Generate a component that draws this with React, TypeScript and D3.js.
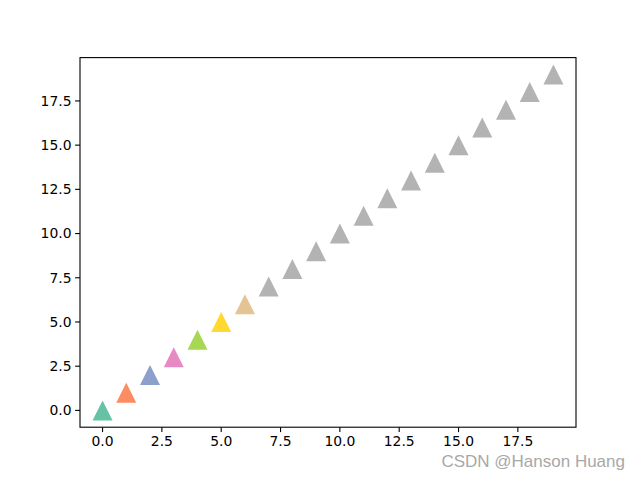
import React from "react";
import * as d3 from "d3";

const xs: number[] = Array.from({ length: 20 }, (_, i) => i);
const ys: number[] = [0, 1, 2, 3, 4, 5, 6, 7, 8, 9, 10, 11, 12, 13, 14, 15, 16, 17, 18, 19];
const palette: string[] = ["#66c2a5", "#fc8d62", "#8da0cb", "#e78ac3", "#a6d854", "#ffd92f", "#e5c494", "#b3b3b3"];
const xTicks: number[] = [0, 2.5, 5, 7.5, 10, 12.5, 15, 17.5];
const yTicks: number[] = [0, 2.5, 5, 7.5, 10, 12.5, 15, 17.5];

export default function App() {
  const W = 640, H = 480;
  const left = 80, right = 576, top = 57.6, bottom = 427.2;
  const x = d3.scaleLinear().domain([-0.95, 19.95]).range([left, right]);
  const y = d3.scaleLinear().domain([-0.95, 19.95]).range([bottom, top]);
  const half = 10;
  const tri = (cx: number, cy: number) =>
    `M${cx},${cy - half}L${cx - half},${cy + half}L${cx + half},${cy + half}Z`;
  const font = "DejaVu Sans, sans-serif";
  return (
    <svg width={W} height={H} style={{ position: "absolute", left: 0, top: 0 }}>
      <rect width={W} height={H} fill="#fff" />
      {xs.map((xv, i) => (
        <path key={i} d={tri(x(xv), y(ys[i]))} fill={palette[Math.min(i, palette.length - 1)]} />
      ))}
      <rect x={left} y={top} width={right - left} height={bottom - top} fill="none" stroke="#000" strokeWidth={1.1} />
      {xTicks.map((t) => (
        <g key={"x" + t}>
          <line x1={x(t)} x2={x(t)} y1={bottom} y2={bottom + 4.9} stroke="#000" strokeWidth={1.1} />
          <text x={x(t)} y={bottom + 19} textAnchor="middle" fontFamily={font} fontSize={13.9}>
            {t.toFixed(1)}
          </text>
        </g>
      ))}
      {yTicks.map((t) => (
        <g key={"y" + t}>
          <line x1={left - 4.9} x2={left} y1={y(t)} y2={y(t)} stroke="#000" strokeWidth={1.1} />
          <text x={left - 8.5} y={y(t)} dy="0.35em" textAnchor="end" fontFamily={font} fontSize={13.9}>
            {t.toFixed(1)}
          </text>
        </g>
      ))}
      <text x={625} y={467} textAnchor="end" fontFamily="Liberation Sans, Arial, sans-serif" fontSize={17} fill="#a8a8a8">
        CSDN @Hanson Huang
      </text>
    </svg>
  );
}
